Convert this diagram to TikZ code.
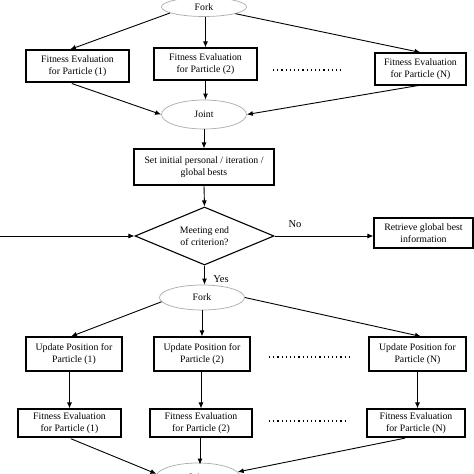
\documentclass[tikz,border=0pt]{standalone}
\usepackage{fontspec}
\setmainfont{Liberation Serif}
\usetikzlibrary{shapes.geometric,arrows.meta,calc}
\newcommand{\fs}{\fontsize{9.8pt}{12.5pt}\selectfont}
\newcommand{\lfs}{\fontsize{10.5pt}{12.5pt}\selectfont}
\begin{document}
\begin{tikzpicture}[x=1pt,y=-1pt,
  box/.style={draw, line width=1.1pt, align=center, inner sep=0pt, font=\fs},
  oval/.style={ellipse, draw=gray!65, line width=0.7pt, minimum width=85pt, minimum height=29pt, inner sep=0pt, font=\fs},
  arr/.style={-{Latex[length=6pt,width=5pt]}, line width=0.9pt},
  dotline/.style={line width=1.2pt, dash pattern=on 1.2pt off 3pt},
  lbl/.style={font=\lfs, inner sep=0pt}]
\useasboundingbox (0,0) rectangle (474,474);
\fill[white] (0,0) rectangle (474,474);

% top fork
\node[oval, minimum height=19pt] (fork1) at (204,7) {Fork};
\node[box, minimum width=103pt, minimum height=32pt] (b1) at (77.5,66) {Fitness Evaluation\\for Particle (1)};
\node[box, minimum width=103pt, minimum height=32pt] (b2) at (205.5,64) {Fitness Evaluation\\for Particle (2)};
\node[box, minimum width=91pt, minimum height=32pt] (bn) at (420.5,69) {Fitness Evaluation\\for Particle (N)};
\draw[dotline] (273,70) -- (341,70);
\node[oval] (joint1) at (204,114.5) {Joint};
\node[box, minimum width=140pt, minimum height=36pt] (set) at (204,167) {Set initial personal / iteration /\\global bests};
\node[diamond, draw, line width=1.1pt, aspect=2.4, minimum width=139pt, minimum height=58pt, inner sep=0pt, align=center, font=\fs] (dia) at (204.5,236) {Meeting end\\of criterion?};
\node[box, minimum width=99pt, minimum height=30pt] (ret) at (423.5,233) {Retrieve global best\\information};
\coordinate (loopin) at (0,236);
\node[lbl] (no) at (295,224) {No};
\node[lbl] (yes) at (221,279) {Yes};

% second fork
\node[oval, minimum height=25pt] (fork2) at (202,297.5) {Fork};
\node[box, minimum width=96pt, minimum height=34pt] (u1) at (74,354) {Update Position for\\Particle (1)};
\node[box, minimum width=96pt, minimum height=34pt] (u2) at (202,354) {Update Position for\\Particle (2)};
\node[box, minimum width=97pt, minimum height=34pt] (un) at (417.5,354) {Update Position for\\Particle (N)};
\draw[dotline] (269,357) -- (352,357);
\node[box, minimum width=103pt, minimum height=28pt] (f1) at (69.5,423) {Fitness Evaluation\\for Particle (1)};
\node[box, minimum width=102pt, minimum height=28pt] (f2) at (201,423) {Fitness Evaluation\\for Particle (2)};
\node[box, minimum width=98pt, minimum height=28pt] (fn) at (416,423) {Fitness Evaluation\\for Particle (N)};
\draw[dotline] (269,421) -- (345,421);
\node[oval] (joint2) at (198,477.5) {Joint};

% connectors, top part
\draw[arr] (fork1.190) -- ($(b1.north)+(-7.5,0)$);
\draw[arr] (fork1.south -| b2.north) -- (b2.north);
\draw[arr] (fork1.-12) -- (bn.north);
\draw[arr, shorten <=3pt] ($(b1.south)+(-8.5,0)$) -- (joint1.west);
\draw[arr] (b2.south) -- (b2.south |- joint1.north);
\draw[arr] ($(bn.south)+(-2.5,0)$) -- (joint1.east);
\draw[arr] (joint1.south) -- (set.north);
\draw[arr] (set.south) -- (dia.north);
\draw[arr] (loopin) -- (dia.west);
\draw[arr] (dia.east) -- (dia.east -| ret.west);
\draw[arr] (dia.south) -- (dia.south |- fork2.north);

% connectors, bottom part
\draw[arr] (fork2.186) -- ($(u1.north)+(-3,0)$);
\draw[arr] (fork2.south) -- (u2.north);
\draw[arr] (fork2.east) -- ($(un.north)+(3.5,0)$);
\draw[arr] (f1.north |- u1.south) -- (f1.north);
\draw[arr] (f2.north |- u2.south) -- (f2.north);
\draw[arr] (un.south) -- (un.south |- fn.north);
\draw[arr, shorten <=3pt] ($(f1.south)+(-1.5,0)$) -- (joint2.175);
\draw[arr] ($(f2.south)+(-1,0)$) -- ($(f2.south |- joint2.north)+(-1,2)$);
\draw[arr, shorten <=3pt] ($(fn.south)+(-8,0)$) -- (joint2.8);
\end{tikzpicture}
\end{document}
